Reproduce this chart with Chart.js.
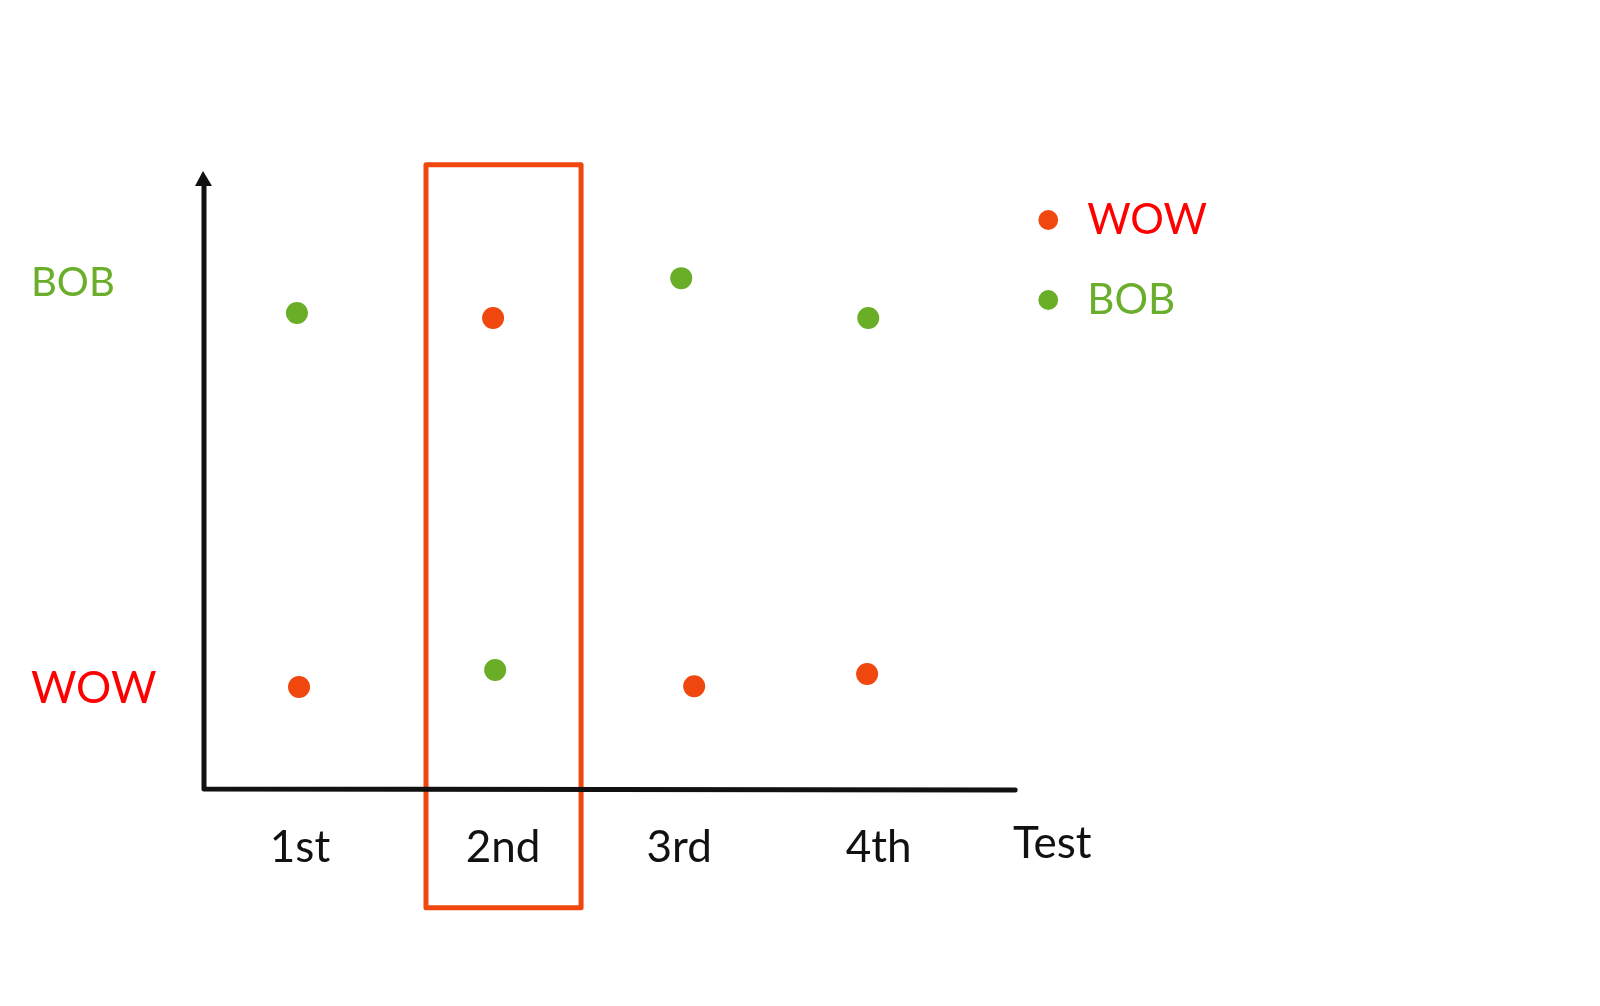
<!DOCTYPE html>
<html>
<head>
<meta charset="utf-8">
<title>WOW vs BOB by test</title>
<script src="https://cdn.jsdelivr.net/npm/chart.js@4.4.1/dist/chart.umd.min.js"></script>
<style>
  html, body { margin: 0; padding: 0; background: #fff; }
  #wrap { position: relative; width: 1600px; height: 1006px; }
</style>
</head>
<body>
<div id="wrap"><canvas id="chart"></canvas></div>
<script>
// values (y: WOW = 0, BOB = 1)
const tests = ["1st", "2nd", "3rd", "4th"];
const testTicks = [1.005, 2.074, 3.0, 4.05];
const xTitle = "Test";
const groupLabels = ["WOW", "BOB"];
const groupTextColors = ["#ff0000", "#6aae2b"];
const wowX = [1.0, 2.021, 3.079, 3.989];
const wowY = [0.005, 0.914, 0.007, 0.037];
const bobX = [0.989, 2.032, 3.011, 3.995];
const bobY = [0.926, 0.047, 1.012, 0.914];
const highlightX = [1.668, 2.484];
const highlightY = [-0.539, 1.291];

const FONT = "Lato, 'Open Sans', sans-serif";
const RED_DOT = "#f0470f";
const GREEN_DOT = "#6aae28";
const INK = "#111111";
const X_TICK_PAD = 32;

function points(xs, ys) {
  return xs.map((v, i) => ({ x: v, y: ys[i] }));
}

const sketch = {
  id: "sketch",
  beforeDatasetsDraw(chart) {
    const { ctx, scales: { x, y } } = chart;
    ctx.save();
    ctx.lineCap = "round";
    ctx.lineJoin = "round";

    // highlight box round the 2nd test
    ctx.strokeStyle = RED_DOT;
    ctx.lineWidth = 5;
    const l = x.getPixelForValue(highlightX[0]);
    const r = x.getPixelForValue(highlightX[1]);
    const t = y.getPixelForValue(highlightY[1]);
    const b = y.getPixelForValue(highlightY[0]);
    ctx.strokeRect(l, t, r - l, b - t);

    // axes
    const ax = x.getPixelForValue(0.5);
    const ay = y.getPixelForValue(-0.2463);
    const top = y.getPixelForValue(1.276);
    const end = x.getPixelForValue(4.768);
    ctx.strokeStyle = INK;
    ctx.fillStyle = INK;
    ctx.lineWidth = 5;
    ctx.beginPath();
    ctx.moveTo(ax, ay);
    ctx.lineTo(ax, top + 10);
    ctx.moveTo(ax, ay);
    ctx.lineTo(end, ay + 1);
    ctx.stroke();
    ctx.beginPath();
    ctx.moveTo(ax - 1, top);
    ctx.lineTo(ax - 9, top + 15);
    ctx.lineTo(ax + 8, top + 15);
    ctx.closePath();
    ctx.fill();
    ctx.restore();
  },
  afterDraw(chart) {
    const { ctx, scales: { x } } = chart;
    ctx.save();
    ctx.font = "44px " + FONT;
    ctx.fillStyle = INK;
    ctx.textAlign = "center";
    ctx.textBaseline = "middle";
    ctx.fillText(xTitle, x.getPixelForValue(4.963), x.top + X_TICK_PAD + 44 * 1.2 / 2 - 4);
    ctx.restore();
  }
};

new Chart(document.getElementById("chart"), {
  type: "scatter",
  data: {
    datasets: [
      { label: groupLabels[0], data: points(wowX, wowY), backgroundColor: RED_DOT, borderWidth: 0, pointRadius: 11, pointHoverRadius: 11 },
      { label: groupLabels[1], data: points(bobX, bobY), backgroundColor: GREEN_DOT, borderWidth: 0, pointRadius: 11, pointHoverRadius: 11 }
    ]
  },
  options: {
    responsive: true,
    maintainAspectRatio: false,
    animation: false,
    layout: { padding: { top: 161, left: 31, right: 383, bottom: 0 } },
    plugins: {
      tooltip: { enabled: false },
      legend: {
        position: "right",
        align: "start",
        labels: {
          usePointStyle: true,
          boxWidth: 36,
          boxHeight: 14,
          padding: 38,
          font: { family: FONT, size: 42 },
          generateLabels(chart) {
            const items = Chart.defaults.plugins.legend.labels.generateLabels(chart);
            items.forEach((item, i) => { item.fontColor = groupTextColors[i]; });
            return items;
          }
        }
      }
    },
    scales: {
      x: {
        type: "linear",
        min: 0.5,
        max: 4.6474,
        grid: { display: false, drawTicks: false },
        border: { display: false },
        afterBuildTicks: (scale) => { scale.ticks = testTicks.map((v) => ({ value: v })); },
        afterFit: (scale) => { scale.height = 217; },
        ticks: {
          autoSkip: false,
          maxRotation: 0,
          padding: X_TICK_PAD,
          color: INK,
          font: { family: FONT, size: 44 },
          callback: (value, i) => tests[i]
        }
      },
      y: {
        type: "linear",
        min: -0.2463,
        max: 1.3005,
        grid: { display: false, drawTicks: false },
        border: { display: false },
        afterBuildTicks: (scale) => { scale.ticks = [{ value: 0 }, { value: 1 }]; },
        afterFit: (scale) => { scale.width = 173; },
        ticks: {
          crossAlign: "far",
          color: (c) => groupTextColors[c.index],
          font: (c) => ({ family: FONT, size: c.index === 0 ? 44 : 40 }),
          callback: (value, i) => groupLabels[i]
        }
      }
    }
  },
  plugins: [sketch]
});
</script>
</body>
</html>
